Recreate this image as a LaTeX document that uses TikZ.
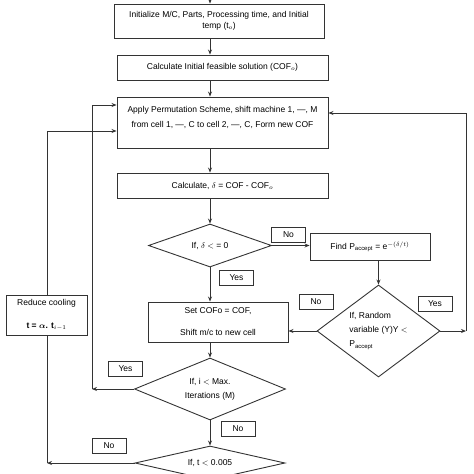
\documentclass[tikz,border=0pt]{standalone}
\usepackage{amsmath}
\usepackage{fontspec}
\setmainfont{Liberation Sans}
\usetikzlibrary{shapes.geometric,arrows.meta}
\begin{document}
\begin{tikzpicture}[x=1pt, y=-1pt, line width=0.9pt, font=\fontsize{8.5}{11}\selectfont,
    line/.style={draw=black!80},
    arr/.style={line, -{Stealth[length=5pt,width=4pt]}},
    proc/.style={draw=black!80, rectangle, inner sep=1pt, align=center},
    dec/.style={draw=black!80, diamond, inner sep=0pt, aspect=2, align=center},
    lbl/.style={draw=black!80, rectangle, inner sep=1pt, minimum width=34pt, minimum height=15pt}]
    \useasboundingbox (0,0) rectangle (474,474);
    \clip (0,0) rectangle (474,474);

    % Main column
    \coordinate (start) at (210,0);
    \node[proc, minimum width=210pt, minimum height=34pt] (init) at (219,21) {Initialize M/C, Parts, Processing time, and Initial\\ temp (t$_o$)};
    \node[proc, minimum width=211pt, minimum height=25pt] (feas) at (222.5,67.5) {Calculate Initial feasible solution (COF$_o$)};
    \node[proc, minimum width=211pt, minimum height=51pt] (perm) at (222.5,122.5) {Apply Permutation Scheme, shift machine 1, ---, M\\[4pt] from cell 1, ---, C to cell 2, ---, C, Form new COF\\[1pt]};
    \node[proc, minimum width=211pt, minimum height=25pt] (delta) at (222.5,185.5) {Calculate, $\delta$ = COF - COF$_o$};

    % Decisions
    \node[dec, minimum width=123pt, minimum height=43pt] (chkd) at (210,245.5) {If, $\delta$ $<$ = 0};
    \node[proc, minimum width=120pt, minimum height=27pt] (prob) at (370,246.5) {Find P$_{\text{accept}}$ = e$^{-(\delta/t)}$};
    \node[dec, aspect=1.3, minimum width=123pt, minimum height=92pt, align=left] (rand) at (378.5,331) {If, Random\\[3pt] variable (Y)Y $<$\\[3pt] P$_{\text{accept}}$};
    \node[proc, minimum width=140pt, minimum height=40pt] (setc) at (218,322) {Set COFo = COF,\\[11pt] Shift m/c to new cell};
    \node[dec, minimum width=151pt, minimum height=62pt] (iter) at (210,389) {If, i $<$ Max.\\[3pt] Iterations (M)};
    \node[dec, minimum width=150pt, minimum height=34pt] (temp) at (210,463) {If, t $<$ 0.005};

    % Cooling
    \node[proc, minimum width=81pt, minimum height=40pt] (cool) at (46.5,315) {Reduce cooling\\[12pt] \textbf{t = $\boldsymbol{\alpha}$. t$_{i-1}$}};

    % Labels
    \node[lbl] (no1) at (288.5,234.5) {No};
    \node[lbl] (yes1) at (236.5,277.5) {Yes};
    \node[lbl] (no2) at (316,302) {No};
    \node[lbl] (yes2) at (435,303.5) {Yes};
    \node[lbl] (yes3) at (125.5,369) {Yes};
    \node[lbl] (no3) at (238,428.5) {No};
    \node[lbl] (no4) at (109,446) {No};

    % Loop corners
    \coordinate (rlow) at (466,331);
    \coordinate (rtop) at (466,113);
    \coordinate (llow) at (92,389);
    \coordinate (ltop) at (92,105);
    \coordinate (clow) at (47,463);
    \coordinate (ctop) at (47,131);

    % Connectors
    \draw[arr] (start) -- (init.north -| start);
    \draw[arr] (init.south -| start) -- (feas.north -| start);
    \draw[arr] (feas.south -| start) -- (perm.north -| start);
    \draw[arr] (perm.south -| start) -- (delta.north -| start);
    \draw[arr] (delta.south -| start) -- (chkd.north);
    \draw[arr] (chkd.east) -- (chkd.east -| prob.west);
    \draw[arr] (prob.south -| rand.north) -- (rand.north);
    \draw[arr] (chkd.south) -- (setc.north -| chkd.south);
    \draw[arr] (rand.west) -- (rand.west -| setc.east);
    \draw[arr] (rand.east) -- (rlow);
    \draw[arr] (rlow) -- (rtop) -- (rtop -| perm.east);
    \draw[arr] (setc.south -| iter.north) -- (iter.north);
    \draw[arr] (iter.west) -- (llow);
    \draw[arr] (llow) -- (ltop) -- (ltop -| perm.west);
    \draw[arr] (iter.south) -- (temp.north);
    \draw[arr] (temp.west) -- (clow);
    \draw[line] (clow) -- (cool.south -| clow);
    \draw[arr] (cool.north -| ctop) -- (ctop) -- (ctop -| perm.west);
\end{tikzpicture}
\end{document}
